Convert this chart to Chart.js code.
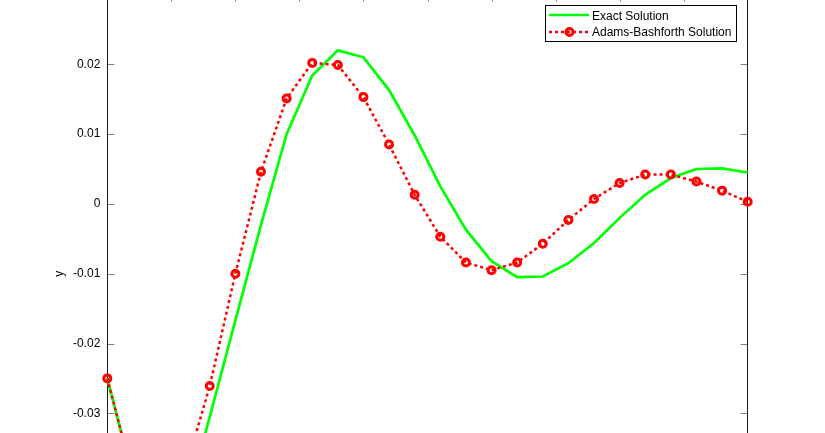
<!DOCTYPE html>
<html><head><meta charset="utf-8">
<script src="https://cdn.jsdelivr.net/npm/chart.js@4.4.0/dist/chart.umd.min.js"></script>
<style>
html,body{margin:0;padding:0;overflow:hidden;background:#fff;width:825px;height:433px;}
#wrap{position:absolute;left:0;top:-20px;width:825px;height:600px;}
</style></head><body>
<div id="wrap"><canvas id="c"></canvas></div>
<script>
const xValues = [0,0.2,0.4,0.6,0.8,1.0,1.2,1.4,1.6,1.8,2.0,2.2,2.4,2.6,2.8,3.0,3.2,3.4,3.6,3.8,4.0,4.2,4.4,4.6,4.8,5.0];
const exactSolution = [-0.025,-0.0392,-0.047,-0.0439,-0.0305,-0.0167,-0.0030,0.0100,0.0184,0.0220,0.0210,0.0163,0.0098,0.0025,-0.0037,-0.0082,-0.0105,-0.0104,-0.0085,-0.0056,-0.0020,0.0013,0.0037,0.0050,0.0051,0.0045];
const adamsBashforth = [-0.025,-0.0392,-0.045,-0.0387,-0.0261,-0.0100,0.0046,0.0151,0.0202,0.0199,0.0153,0.0085,0.0013,-0.0047,-0.0084,-0.0095,-0.0084,-0.0057,-0.0023,0.0007,0.0030,0.0042,0.0042,0.0032,0.0019,0.0003];
const yTickValues = [-0.03,-0.02,-0.01,0,0.01,0.02];
const yTickLabels = ['-0.03','-0.02','-0.01','0','0.01','0.02'];
const xTickValues = [0.5,1.0,1.5,2.0,2.5,3.0,3.5,4.0,4.5];
const seriesNames = ['Exact Solution','Adams-Bashforth Solution'];
const yAxisTitle = 'y';

const FONT = 'Liberation Sans, Arial, sans-serif';
const OFFSET_Y = 20; // canvas is shifted up by this many px

const boxPlugin = {
  id: 'box',
  beforeDatasetsDraw(chart) {
    const {ctx, chartArea: a, scales: {x, y}} = chart;
    ctx.save();
    ctx.strokeStyle = '#808080';
    ctx.lineWidth = 1;
    ctx.beginPath();
    yTickValues.forEach(v => {
      const py = Math.round(y.getPixelForValue(v)) + 0.5;
      ctx.moveTo(a.left, py); ctx.lineTo(a.left + 7, py);
      ctx.moveTo(a.right, py); ctx.lineTo(a.right - 7, py);
    });
    xTickValues.forEach(v => {
      const px = Math.round(x.getPixelForValue(v)) + 0.5;
      ctx.moveTo(px, a.top); ctx.lineTo(px, a.top + 7);
      ctx.moveTo(px, a.bottom); ctx.lineTo(px, a.bottom - 7);
    });
    ctx.stroke();
    ctx.strokeStyle = '#1a1a1a';
    ctx.beginPath();
    ctx.rect(Math.round(a.left) + 0.5, Math.round(a.top) + 0.5, Math.round(a.right - a.left), Math.round(a.bottom - a.top));
    ctx.stroke();
    ctx.restore();
  },
  afterDraw(chart) {
    const {ctx} = chart;
    const oy = OFFSET_Y;
    ctx.save();
    ctx.fillStyle = '#fff';
    ctx.fillRect(545.5, 5.5 + oy, 191, 36);
    ctx.strokeStyle = '#000';
    ctx.lineWidth = 1;
    ctx.strokeRect(545.5, 5.5 + oy, 191, 36);
    ctx.strokeStyle = '#00ff00';
    ctx.lineWidth = 2.7;
    ctx.beginPath(); ctx.moveTo(549, 15 + oy); ctx.lineTo(589, 15 + oy); ctx.stroke();
    ctx.strokeStyle = '#ff0000';
    ctx.lineWidth = 2.5;
    ctx.setLineDash([3, 3]);
    ctx.beginPath(); ctx.moveTo(549, 32 + oy); ctx.lineTo(589, 32 + oy); ctx.stroke();
    ctx.setLineDash([]);
    ctx.lineWidth = 3;
    ctx.beginPath(); ctx.arc(569.5, 32 + oy, 3.5, 0, Math.PI * 2); ctx.stroke();
    ctx.fillStyle = '#000';
    ctx.font = '12px ' + FONT;
    ctx.textBaseline = 'middle';
    ctx.textAlign = 'left';
    ctx.fillText(seriesNames[0], 592, 16.5 + oy);
    ctx.fillText(seriesNames[1], 592, 32.5 + oy);
    ctx.restore();
  }
};

new Chart(document.getElementById('c'), {
  type: 'line',
  data: {
    datasets: [
      {
        label: seriesNames[0],
        data: xValues.map((v, i) => ({x: v, y: exactSolution[i]})),
        borderColor: '#00ff00',
        borderWidth: 2.7,
        pointRadius: 0,
        tension: 0,
        clip: false,
        order: 1
      },
      {
        label: seriesNames[1],
        data: xValues.map((v, i) => ({x: v, y: adamsBashforth[i]})),
        borderColor: '#ff0000',
        borderWidth: 2.5,
        borderDash: [3, 3],
        pointRadius: 3.5,
        pointBorderWidth: 3,
        pointBorderColor: '#ff0000',
        pointBackgroundColor: 'rgba(0,0,0,0)',
        tension: 0,
        clip: false,
        order: 0
      }
    ]
  },
  options: {
    responsive: true,
    maintainAspectRatio: false,
    animation: false,
    events: [],
    layout: {padding: {left: 0, right: 77.3, top: 14.5, bottom: 27.1}},
    plugins: {legend: {display: false}, tooltip: {enabled: false}},
    scales: {
      x: {
        type: 'linear', min: 0, max: 5, display: false
      },
      y: {
        type: 'linear', position: 'left', min: -0.05, max: 0.03,
        afterBuildTicks: (s) => { s.ticks = yTickValues.map(v => ({value: v})); },
        afterFit: (s) => { s.width = 107.3; },
        grid: {display: false, drawTicks: false},
        border: {display: false},
        ticks: {
          padding: 7,
          color: '#000',
          font: {family: FONT, size: 12},
          callback: (v) => {
            const i = yTickValues.findIndex(t => Math.abs(t - v) < 1e-9);
            return i >= 0 ? yTickLabels[i] : '';
          }
        },
        title: {
          display: true, text: yAxisTitle, color: '#000',
          font: {family: FONT, size: 12, lineHeight: 1.2},
          padding: {top: 52, bottom: 0}
        }
      }
    }
  },
  plugins: [boxPlugin]
});
</script>
</body></html>
